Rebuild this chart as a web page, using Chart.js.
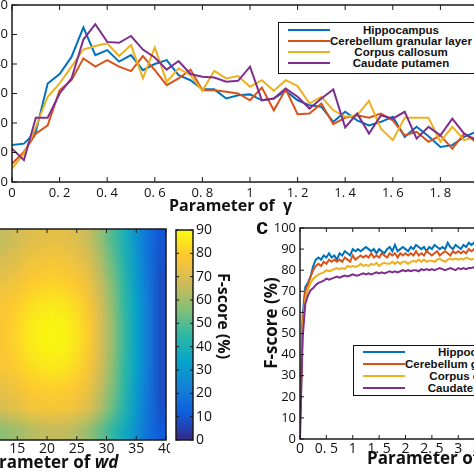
<!DOCTYPE html>
<html>
<head>
<meta charset="utf-8">
<script src="https://cdn.jsdelivr.net/npm/chart.js@4.4.0/dist/chart.umd.min.js"></script>
<style>
  body { margin: 0; width: 474px; height: 474px; overflow: hidden; position: relative; background: #fff; font-family: "Open Sans", sans-serif; color: #111; }
  canvas { position: absolute; }
  .lbl { position: absolute; font-weight: bold; white-space: pre; color: #111; line-height: 1; }
  .legend { position: absolute; border: 1.5px solid #111; background: #fff; box-sizing: border-box;
            font: bold 11.5px "Liberation Sans", Arial, sans-serif; padding-left: 9px; overflow: hidden; }
  .legend .row { display: flex; align-items: center; white-space: nowrap; }
  .legend .ln { display: inline-block; width: 42px; height: 2px; flex: none; }
  .legend .tx { display: inline-block; width: 142px; text-align: center; flex: none; }
</style>
</head>
<body>
<canvas id="gammaChart" width="540" height="215" style="left:-40px;top:0px"></canvas>
<canvas id="wdChart" width="270" height="250" style="left:-100px;top:215px"></canvas>
<canvas id="barChart" width="50" height="240" style="left:170px;top:215px"></canvas>
<canvas id="cChart" width="290" height="259" style="left:240px;top:215px"></canvas>

<div class="lbl" style="left:169px;top:197px;font-size:16px">Parameter of  γ</div>
<div class="lbl" style="left:-22px;top:453px;font-size:17px">Parameter of <i>wd</i></div>
<div class="lbl" style="left:224px;top:316px;font-size:16px;transform:translate(-50%,-50%) rotate(90deg)">F-score (%)</div>
<div class="lbl" style="left:256px;top:216px;font-family:'Liberation Sans',Arial,sans-serif;font-size:22px">c</div>
<div class="lbl" style="left:270px;top:323px;font-size:17px;transform:translate(-50%,-50%) rotate(-90deg)">F-score (%)</div>
<div class="lbl" style="left:367px;top:449px;font-size:17px">Parameter of  λ</div>

<div class="legend" id="legendTop" style="left:278px;top:22px;width:198px;height:52px;padding-top:1px"></div>
<div class="legend" id="legendC" style="left:353px;top:345px;width:200px;height:51px;padding-top:0px"></div>

<script>
// region names and colours
const regions = ['Hippocampus', 'Cerebellum granular layer', 'Corpus callosum', 'Caudate putamen'];
const regionColors = ['#0072BD', '#D95319', '#EDB120', '#7E2F8E'];

// panel a: F-score vs gamma
const gammaValues = [0, 0.05, 0.1, 0.15, 0.2, 0.25, 0.3, 0.35, 0.4, 0.45, 0.5, 0.55, 0.6, 0.65, 0.7, 0.75, 0.8, 0.85, 0.9, 0.95,
  1, 1.05, 1.1, 1.15, 1.2, 1.25, 1.3, 1.35, 1.4, 1.45, 1.5, 1.55, 1.6, 1.65, 1.7, 1.75, 1.8, 1.85, 1.9, 1.95, 2];
const hippoGamma = [12.5, 13.0, 17.0, 33.4, 36.6, 42.4, 52.4, 43.0, 44.7, 40.8, 43.0, 37.9, 40.0, 41.3, 36.2, 34.5, 31.4, 31.4, 28.3, 29.4,
  29.7, 27.7, 28.3, 30.9, 27.7, 26.0, 25.5, 20.4, 23.8, 20.9, 19.2, 20.4, 22.1, 15.3, 18.7, 15.5, 11.9, 12.5, 15.3, 17.0, 16.0];
const cerebGamma = [6.2, 10.2, 16.4, 19.2, 31.1, 34.5, 41.9, 39.1, 41.3, 39.1, 37.6, 42.7, 37.9, 32.8, 35.1, 38.1, 31.1, 31.1, 30.6, 30.0,
  27.7, 32.0, 24.3, 31.4, 23.0, 23.2, 26.6, 19.6, 21.8, 22.6, 21.8, 23.2, 20.9, 15.8, 17.0, 13.6, 15.8, 11.3, 16.4, 13.6, 14.5];
const corpusGamma = [4.5, 9.6, 18.7, 28.9, 33.4, 39.1, 44.9, 46.1, 47.0, 42.7, 46.4, 35.1, 45.6, 34.0, 38.5, 36.2, 30.9, 37.7, 35.1, 35.9,
  32.3, 34.5, 30.9, 34.5, 32.5, 26.6, 28.9, 24.3, 22.1, 22.6, 27.5, 18.1, 14.2, 21.8, 21.8, 21.8, 13.6, 18.7, 14.2, 15.3, 15.0];
const caudateGamma = [11.3, 7.4, 21.8, 21.8, 30.0, 35.1, 48.3, 53.5, 47.5, 47.2, 49.5, 44.9, 42.2, 38.1, 41.0, 36.6, 35.7, 35.4, 34.0, 34.3,
  39.1, 27.7, 28.3, 31.7, 28.9, 24.9, 28.3, 31.4, 18.5, 23.2, 16.4, 22.6, 21.5, 23.8, 14.7, 18.7, 15.8, 21.5, 16.4, 14.2, 15.0];

// panel b: F-score (%) heat map, columns over wd, rows top to bottom
const heatX = [1, 3, 5, 7, 9, 11, 13, 15, 17, 19, 21, 23, 25, 27, 29, 31, 33, 35, 37, 39];
const heatY = [9.5, 8.5, 7.5, 6.5, 5.5, 4.5, 3.5, 2.5, 1.5, 0.5];
const heatGrid = [
  [47, 51, 55, 58, 61, 64, 66, 68, 71, 72, 73, 72, 70, 66, 58, 49, 40, 28, 17, 10],
  [52, 56, 60, 63, 66, 68, 70, 72, 75, 76, 77, 76, 74, 70, 62, 52, 42, 30, 18, 9],
  [56, 60, 64, 67, 70, 72, 74, 76, 79, 80, 81, 80, 78, 74, 65, 55, 44, 31, 19, 8],
  [59, 63, 67, 70, 73, 76, 78, 80, 83, 85, 86, 85, 82, 77, 68, 57, 45, 33, 20, 8],
  [60, 64, 68, 71, 74, 77, 79, 82, 86, 88, 89, 88, 85, 79, 69, 58, 46, 33, 20, 8],
  [60, 64, 68, 71, 74, 77, 79, 82, 86, 88, 89, 88, 85, 79, 69, 58, 46, 33, 20, 8],
  [59, 63, 67, 70, 73, 76, 78, 80, 83, 85, 86, 85, 82, 77, 68, 57, 45, 33, 20, 8],
  [56, 60, 64, 67, 70, 72, 74, 76, 79, 80, 81, 80, 78, 74, 65, 55, 44, 31, 19, 8],
  [52, 56, 60, 63, 66, 68, 70, 72, 75, 76, 77, 76, 74, 70, 62, 52, 42, 30, 18, 9],
  [40, 44, 48, 51, 53, 56, 58, 60, 63, 65, 66, 65, 63, 58, 52, 45, 37, 27, 17, 11]
];
const cbarMin = 0, cbarMax = 90;

// panel c
const cParam = [0, 0.05, 0.1, 0.15, 0.2, 0.25, 0.3, 0.35, 0.4, 0.45, 0.5, 0.55, 0.6, 0.65, 0.7, 0.75, 0.8, 0.85, 0.9, 0.95,
  1, 1.05, 1.1, 1.15, 1.2, 1.25, 1.3, 1.35, 1.4, 1.45, 1.5, 1.55, 1.6, 1.65, 1.7, 1.75, 1.8, 1.85, 1.9, 1.95,
  2, 2.05, 2.1, 2.15, 2.2, 2.25, 2.3, 2.35, 2.4, 2.45, 2.5, 2.55, 2.6, 2.65, 2.7, 2.75, 2.8, 2.85, 2.9, 2.95,
  3, 3.05, 3.1, 3.15, 3.2, 3.25, 3.3, 3.35, 3.4, 3.45, 3.5, 3.55, 3.6, 3.65, 3.7, 3.75, 3.8, 3.85, 3.9, 3.95, 4];
const hippoC = [10, 58, 72, 74, 77, 82, 85, 86, 85, 87, 86, 88, 86, 87, 85, 88, 87, 89, 88, 87,
  90, 89, 90, 89, 90, 91, 90, 89, 90, 88, 90, 89, 88, 90, 91, 89, 92, 89, 90, 91,
  90, 89, 91, 90, 92, 91, 90, 91, 89, 91, 90, 92, 91, 90, 91, 90, 93, 91, 90, 92,
  91, 90, 92, 91, 93, 92, 93, 92, 93, 92, 93, 92, 93, 92, 93, 92, 93, 92, 93, 92, 93];
const cerebC = [8, 55, 70, 73, 77, 80, 82, 83, 82, 84, 83, 85, 84, 85, 84, 85, 84, 86, 85, 84,
  87, 85, 86, 87, 86, 87, 86, 88, 86, 87, 86, 88, 87, 86, 88, 87, 88, 86, 88, 87,
  88, 87, 88, 87, 89, 87, 88, 87, 89, 88, 87, 88, 89, 87, 88, 89, 88, 87, 89, 88,
  89, 88, 89, 88, 90, 89, 90, 89, 90, 89, 90, 89, 90, 89, 90, 89, 90, 89, 90, 89, 90];
const corpusC = [5, 52, 66, 71, 74, 76, 77, 78, 78.5, 79, 80, 79.5, 80, 80.5, 81, 80.5, 81, 80.5, 82, 81.5,
  82, 81.5, 82, 83, 82, 82.5, 82, 83, 82.5, 83.5, 82, 83, 83.5, 83, 83, 84, 83, 84, 83, 84,
  84, 83, 84, 84.5, 84, 85, 84, 85, 84, 84.5, 84.5, 84, 85, 85.5, 84.5, 84, 85, 85.5, 85, 85.5,
  85, 85.5, 85, 86, 85.5, 85, 85.5, 86, 85.5, 85, 85.5, 86, 85.5, 85, 85.5, 86, 85.5, 85, 85.5, 86, 85.5];
const caudateC = [0, 48, 64, 68, 70.5, 71.5, 73, 74, 74.5, 75, 76, 75.5, 76, 76.5, 77, 76.5, 77, 77.5, 77, 77.5,
  78, 77.5, 77.5, 78, 78.5, 78, 78.5, 78, 78.5, 79, 78.5, 79, 78.5, 79, 79.5, 79, 79.5, 79, 79.5, 80,
  79.5, 80, 79.5, 80, 80, 79.5, 80.5, 80, 80.5, 80, 80.5, 80, 80.5, 81, 80.5, 80, 80.5, 81, 80.5, 80,
  81, 80.5, 81, 80.5, 81, 81, 81.5, 81, 81.5, 81, 81.5, 81, 81.5, 81, 81.5, 81, 81.5, 81, 81.5, 81, 81.5];

// parula-like colour map stops
const parula = ['#352a87', '#0f5cdd', '#1481d6', '#06a4ca', '#2eb7a4', '#87bf77', '#d1bb59', '#fec832', '#f9fb0e'];

function hexRgb(h) {
  return [parseInt(h.slice(1, 3), 16), parseInt(h.slice(3, 5), 16), parseInt(h.slice(5, 7), 16)];
}
function parulaAt(f) {
  f = Math.max(0, Math.min(1, f)) * (parula.length - 1);
  const i = Math.min(Math.floor(f), parula.length - 2), t = f - i;
  const a = hexRgb(parula[i]), b = hexRgb(parula[i + 1]);
  return 'rgb(' + a.map((v, k) => Math.round(v + (b[k] - v) * t)).join(',') + ')';
}
function fmtTick(v) {
  return String(Math.round(v * 100) / 100).replace('.', '. ');
}

Chart.defaults.font.family = '"Open Sans", sans-serif';
Chart.defaults.color = '#111';

// box round the plot area, ticks pointing inwards
const framePlugin = {
  id: 'frame',
  afterDraw(chart, args, opts) {
    const { ctx, chartArea: a, scales } = chart;
    const len = opts.len || 4;
    ctx.save();
    ctx.strokeStyle = '#1a1a1a';
    ctx.lineWidth = 1.5;
    ctx.strokeRect(a.left, a.top, a.right - a.left, a.bottom - a.top);
    ctx.lineWidth = 1;
    ctx.beginPath();
    if (opts.xTicks !== false) {
      scales.x.ticks.forEach(t => {
        const p = scales.x.getPixelForValue(t.value);
        ctx.moveTo(p, a.bottom); ctx.lineTo(p, a.bottom - len);
        ctx.moveTo(p, a.top); ctx.lineTo(p, a.top + len);
      });
    }
    if (opts.yTicks !== false) {
      scales.y.ticks.forEach(t => {
        const p = scales.y.getPixelForValue(t.value);
        ctx.moveTo(a.left, p); ctx.lineTo(a.left + len, p);
        ctx.moveTo(a.right, p); ctx.lineTo(a.right - len, p);
      });
    }
    ctx.stroke();
    ctx.restore();
  }
};

const heatPlugin = {
  id: 'heat',
  beforeDatasetsDraw(chart) {
    const { ctx, chartArea: a, scales: { x, y } } = chart;
    const off = document.createElement('canvas');
    off.width = heatX.length;
    off.height = heatY.length;
    const octx = off.getContext('2d');
    heatGrid.forEach((row, r) => row.forEach((v, c) => {
      octx.fillStyle = parulaAt((v - cbarMin) / (cbarMax - cbarMin));
      octx.fillRect(c, r, 1, 1);
    }));
    const hx = (heatX[1] - heatX[0]) / 2, hy = (heatY[0] - heatY[1]) / 2;
    const left = x.getPixelForValue(heatX[0] - hx), right = x.getPixelForValue(heatX[heatX.length - 1] + hx);
    const top = y.getPixelForValue(heatY[0] + hy), bottom = y.getPixelForValue(heatY[heatY.length - 1] - hy);
    ctx.save();
    ctx.beginPath();
    ctx.rect(a.left, a.top, a.right - a.left, a.bottom - a.top);
    ctx.clip();
    ctx.imageSmoothingEnabled = true;
    ctx.drawImage(off, left, top, right - left, bottom - top);
    ctx.restore();
  }
};

const cbarPlugin = {
  id: 'cbar',
  beforeDatasetsDraw(chart) {
    const { ctx, chartArea: a, scales: { y } } = chart;
    const y0 = y.getPixelForValue(cbarMin), y1 = y.getPixelForValue(cbarMax);
    const g = ctx.createLinearGradient(0, y0, 0, y1);
    parula.forEach((c, i) => g.addColorStop(i / (parula.length - 1), c));
    ctx.fillStyle = g;
    ctx.fillRect(a.left, y1, a.right - a.left, y0 - y1);
  }
};

function fixAxis(size, isX) {
  return s => {
    if (isX) s.height = size; else s.width = size;
    s.paddingLeft = s.paddingRight = s.paddingTop = s.paddingBottom = 0;
  };
}

const baseOpts = {
  responsive: false,
  maintainAspectRatio: false,
  animation: false,
  devicePixelRatio: 1,
  plugins: { legend: { display: false }, tooltip: { enabled: false } }
};

function lineSets(xs, series) {
  return series.map((arr, i) => ({
    label: regions[i],
    data: arr.map((v, k) => ({ x: xs[k], y: v })),
    borderColor: regionColors[i],
    backgroundColor: regionColors[i],
    borderWidth: 2,
    pointRadius: 0,
    tension: 0,
    order: series.length - i
  }));
}

// panel a
new Chart(document.getElementById('gammaChart').getContext('2d'), {
  type: 'line',
  data: { datasets: lineSets(gammaValues, [hippoGamma, cerebGamma, corpusGamma, caudateGamma]) },
  options: Object.assign({}, baseOpts, {
    layout: { padding: { top: 5, right: 12, left: 0, bottom: 0 } },
    plugins: Object.assign({}, baseOpts.plugins, { frame: { len: 5 } }),
    scales: {
      x: {
        type: 'linear', min: 0, max: 2,
        grid: { display: false, drawTicks: false }, border: { display: false },
        ticks: { stepSize: 0.2, font: { size: 13 }, padding: 3, maxRotation: 0, autoSkip: false, callback: fmtTick },
        afterFit: fixAxis(33, true)
      },
      y: {
        min: 0, max: 60,
        grid: { display: false, drawTicks: false }, border: { display: false },
        ticks: { stepSize: 10, font: { size: 13 }, padding: 4 },
        afterFit: fixAxis(52, false)
      }
    }
  }),
  plugins: [framePlugin]
});

// panel b heat map
new Chart(document.getElementById('wdChart').getContext('2d'), {
  type: 'scatter',
  data: { datasets: [] },
  options: Object.assign({}, baseOpts, {
    layout: { padding: { top: 14, right: 4, left: 0, bottom: 0 } },
    plugins: Object.assign({}, baseOpts.plugins, { frame: { len: 4, yTicks: false } }),
    scales: {
      x: {
        type: 'linear', min: 0, max: 40,
        grid: { display: false, drawTicks: false }, border: { display: false },
        ticks: { stepSize: 5, font: { size: 14 }, padding: 1, maxRotation: 0, autoSkip: false },
        afterFit: fixAxis(25, true)
      },
      y: {
        type: 'linear', min: 0, max: 10,
        grid: { display: false, drawTicks: false }, border: { display: false },
        ticks: { display: false },
        afterFit: fixAxis(28, false)
      }
    }
  }),
  plugins: [heatPlugin, framePlugin]
});

// colour bar
new Chart(document.getElementById('barChart').getContext('2d'), {
  type: 'scatter',
  data: { datasets: [] },
  options: Object.assign({}, baseOpts, {
    layout: { padding: { top: 15, right: 0, left: 6, bottom: 15 } },
    plugins: Object.assign({}, baseOpts.plugins, { frame: { len: 3, xTicks: false } }),
    scales: {
      x: { type: 'linear', min: 0, max: 1, display: false },
      y: {
        type: 'linear', position: 'right', min: cbarMin, max: cbarMax,
        grid: { display: false, drawTicks: false }, border: { display: false },
        ticks: { stepSize: 10, font: { size: 14 }, padding: 3 },
        afterFit: fixAxis(27, false)
      }
    }
  }),
  plugins: [cbarPlugin, framePlugin]
});

// panel c
new Chart(document.getElementById('cChart').getContext('2d'), {
  type: 'line',
  data: { datasets: lineSets(cParam, [hippoC, cerebC, corpusC, caudateC]) },
  options: Object.assign({}, baseOpts, {
    layout: { padding: { top: 13, right: 19, left: 0, bottom: 0 } },
    plugins: Object.assign({}, baseOpts.plugins, { frame: { len: 4 } }),
    scales: {
      x: {
        type: 'linear', min: 0, max: 4,
        grid: { display: false, drawTicks: false }, border: { display: false },
        ticks: { stepSize: 0.5, font: { size: 14 }, padding: 2, maxRotation: 0, autoSkip: false, callback: fmtTick },
        afterFit: fixAxis(35, true)
      },
      y: {
        min: 0, max: 100,
        grid: { display: false, drawTicks: false }, border: { display: false },
        ticks: { stepSize: 10, font: { size: 13 }, padding: 4 },
        afterFit: fixAxis(60, false)
      }
    }
  }),
  plugins: [framePlugin]
});

// legends
function buildLegend(id, rowH) {
  const box = document.getElementById(id);
  regions.forEach((name, i) => {
    const row = document.createElement('div');
    row.className = 'row';
    row.style.height = rowH + 'px';
    row.innerHTML = '<span class="ln" style="background:' + regionColors[i] + '"></span><span class="tx">' + name + '</span>';
    box.appendChild(row);
  });
}
buildLegend('legendTop', 11);
buildLegend('legendC', 12);
</script>
</body>
</html>
